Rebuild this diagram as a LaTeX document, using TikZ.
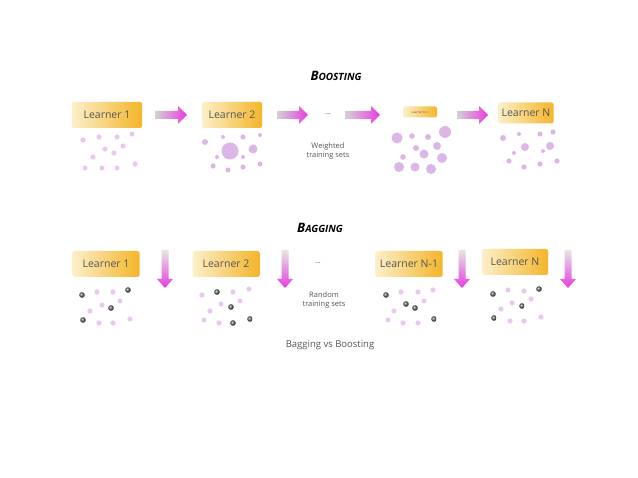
\documentclass[tikz,border=0pt]{standalone}
\usepackage{fontspec}
\setmainfont{Open Sans}
\usetikzlibrary{shadings}
\definecolor{lt}{HTML}{E8C8EE}
\definecolor{bg}{HTML}{DDB6E8}
\definecolor{og}{HTML}{F4B52A}
\definecolor{og0}{HTML}{FCEFC8}
\definecolor{mg}{HTML}{E83CE0}
\definecolor{tx}{HTML}{555555}
\tikzset{
 lbox/.style={rounded corners=2pt,left color=og0,right color=og,minimum height=26pt,inner sep=0pt,text=tx,font=\fontsize{10.5}{12}\selectfont},
 lab/.style={text=tx,font=\fontsize{7.5}{9}\selectfont,align=center},
 ttl/.style={font=\bfseries\itshape\fontsize{13}{15}\selectfont}
}
\newcommand{\harr}[3]{\shade[left color=gray!35,right color=mg] (#1,#3-4) -- (#2-9,#3-4) -- (#2-9,#3-9) -- (#2,#3) -- (#2-9,#3+9) -- (#2-9,#3+4) -- (#1,#3+4) -- cycle;}
\newcommand{\varr}[3]{\shade[top color=gray!20,bottom color=mg] (#1-3.5,#2) -- (#1-3.5,#3-9) -- (#1-8,#3-9) -- (#1,#3) -- (#1+8,#3-9) -- (#1+3.5,#3-9) -- (#1+3.5,#2) -- cycle;}
\newcommand{\ld}[2]{\fill[lt] (#1,#2) circle (2.6);}
\newcommand{\dd}[2]{\shade[ball color=gray!80!black] (#1,#2) circle (2.8);}
\newcommand{\bd}[3]{\fill[bg] (#1,#2) circle (#3);}
\begin{document}
\begin{tikzpicture}[x=1pt,y=-1pt]
\useasboundingbox[fill=white] (0,0) rectangle (638,478);
% Boosting
\node[ttl] (tb) at (336,76) {B{\fontsize{10}{12}\selectfont OOSTING}};
\node[lbox,minimum width=70pt] (b1) at (107,115) {Learner 1};
\node[lbox,minimum width=60pt] (b2) at (232,115) {Learner 2};
\node[lbox,minimum width=34pt,minimum height=11pt,font=\fontsize{3}{4}\selectfont] (b3) at (420,112) {Learner N-1};
\node[lbox,minimum width=55pt,minimum height=21pt] (b4) at (526,113) {Learner N};
\harr{155}{187}{115}
\harr{277}{308}{115}
\harr{345}{380}{115}
\harr{457}{488}{115}
\node[lab] (bd) at (328,114) {...};
\node[lab] (bw) at (328,151) {Weighted\\training sets};
\foreach \x/\y in {83/140,99/137,117/137,132/134,105/149,114/153,123/146,93/157,85/168,102/168,117/168,135/164} {\ld{\x}{\y}}
\foreach \x/\y/\r in {205/142/3,223/137/2,243/137/2.6,260/135/2,230/151/8.5,253/149/4.5,217/157/2,243/157/2,213/166/2.6,228/170/2.6,243/167/2.6,260/164/2.6} {\bd{\x}{\y}{\r}}
\foreach \x/\y/\r in {397/138/5.5,412/136/2.8,428/137/3,445/132/6,416/148/3,424/154/4.5,437/146/4,403/157/2.8,442/158/5,399/167/5,415/167/4.5,431/169/5} {\bd{\x}{\y}{\r}}
\foreach \x/\y/\r in {503/138/3,519/134/2,540/134/2.6,553/132/2.6,525/147/4,550/146/4,514/153/2,543/151/2,509/161/2.6,524/167/2.6,540/164/2.6,557/161/2.6} {\bd{\x}{\y}{\r}}
% Bagging
\node[ttl] (tg) at (320,228) {B{\fontsize{10}{12}\selectfont AGGING}};
\node[lbox,minimum width=67pt] (g1) at (106,264) {Learner 1};
\node[lbox,minimum width=67pt] (g2) at (226,264) {Learner 2};
\node[lbox,minimum width=67pt] (g3) at (409,264) {Learner N-1};
\node[lbox,minimum width=66pt] (g4) at (515,262) {Learner N};
\varr{165}{250}{288}
\varr{285}{250}{288}
\varr{462}{250}{288}
\varr{568}{250}{288}
\node[lab] (gd) at (318,263) {...};
\node[lab] (gr) at (324,300) {Random\\training sets};
\foreach \x/\y/\t in {82/295/1,97/292/0,113/292/0,128/290/1,120/301/0,102/305/0,111/308/1,90/311/0,83/320/1,99/323/0,113/323/0,130/319/0,
202/295/0,217/292/1,233/292/0,249/289/0,240/301/0,221/304/0,231/307/1,210/311/0,204/320/0,219/323/0,233/323/1,250/319/1,
386/295/1,401/292/0,418/292/0,433/290/0,424/301/0,406/304/1,415/308/1,394/311/0,388/320/0,403/323/0,418/323/0,434/319/1,
493/294/1,508/290/0,524/291/0,539/289/1,531/299/0,512/303/0,522/306/1,501/309/0,494/318/1,510/321/0,524/321/0,541/317/0}
{\ifnum\t=1 \dd{\x}{\y}\else\ld{\x}{\y}\fi}
\node[text=tx,font=\fontsize{9.5}{11}\selectfont] (cap) at (330,345) {Bagging vs Boosting};
\end{tikzpicture}
\end{document}
